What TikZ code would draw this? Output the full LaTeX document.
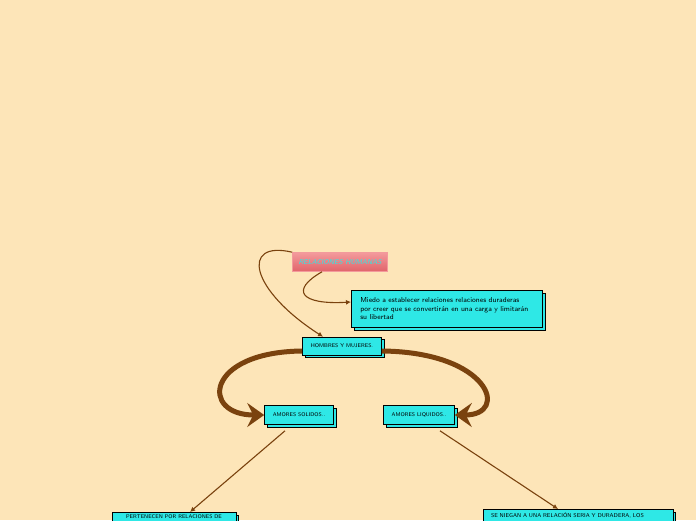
\documentclass[tikz,border=0pt]{standalone}
\usepackage{amsmath}
\usetikzlibrary{shapes,arrows,arrows.meta,calc,positioning,shadows}

\definecolor{fondo}{HTML}{FDE5B8}
\definecolor{cian}{HTML}{2EE8E6}
\definecolor{cafe}{HTML}{7A420E}
\definecolor{rosa}{HTML}{E0646A}
\definecolor{rosaclaro}{HTML}{F39A9C}

\begin{document}
\begin{tikzpicture}[x=1pt,y=-1pt,align=center,
  caja/.style={draw=black, fill=cian, line width=0.6pt, inner sep=1pt,
    copy shadow={shadow xshift=2.5pt, shadow yshift=-2.5pt},
    font=\fontsize{5.4}{6}\selectfont\sffamily},
  flecha/.style={draw=cafe, line width=1.1pt, -{Latex[length=5pt,width=5pt]}},
  gruesa/.style={draw=cafe, line width=5pt, -{Stealth[length=17pt,width=24pt,inset=6pt]}}]
  \useasboundingbox[fill=fondo] (0,0) rectangle (696,520);

  \node[draw=rosaclaro, top color=rosaclaro, bottom color=rosa, line width=0.6pt,
        minimum width=95pt, minimum height=19pt,
        font=\fontsize{7}{8}\selectfont\sffamily\itshape, text=cian]
        (relaciones) at (340,262) {RELACIONES HUMANAS};
  \node[caja, minimum height=37pt, text width=173pt, align=left, anchor=north west,
        font=\fontsize{7.2}{8.5}\selectfont\sffamily, inner sep=9pt, inner ysep=3pt]
        (miedo) at (351,290) {Miedo a establecer relaciones relaciones duraderas\\
        por creer que se convertir\'an en una carga y limitar\'an\\ su libertad};
  \node[caja, minimum width=79pt, minimum height=18pt] (hombres) at (342,346) {HOMBRES Y MUJERES.};
  \node[caja, minimum width=69pt, minimum height=19pt] (solidos) at (299,415) {AMORES SOLIDOS..};
  \node[caja, minimum width=71pt, minimum height=19pt] (liquidos) at (419,415) {AMORES LIQUIDOS..};
  \node[caja, minimum width=124pt, anchor=north, inner sep=2.5pt]
        (pertenecen) at (174,512) {PERTENECEN POR RELACIONES DE};
  \node[caja, text width=174pt, anchor=north, align=left, inner sep=8pt, inner ysep=3pt,
        font=\fontsize{5.6}{6}\selectfont\sffamily]
        (niegan) at (578,509) {SE NIEGAN A UNA RELACI\'ON SERIA Y DURADERA, LOS};

  \path[flecha] (relaciones.north west) .. controls (240,240) and (250,290) ..
                (hombres.north -| 323,0);
  \path[flecha] ($(relaciones.south)+(-18,0)$) .. controls (290,290) and (300,305) ..
                (miedo.west |- 0,302);

  \path[gruesa] ($(hombres.west)+(0,5)$) .. controls (205,352) and (200,415) ..
                (solidos.west);
  \path[gruesa] ($(hombres.east)+(0,5)$) .. controls (490,352) and (510,415) ..
                (liquidos.east);

  \path[flecha] ($(solidos.south)+(-14,6)$) -- ($(pertenecen.north)+(16,0)$);
  \path[flecha] ($(liquidos.south)+(21,6)$) -- ($(niegan.north)+(-20,0)$);
\end{tikzpicture}
\end{document}
